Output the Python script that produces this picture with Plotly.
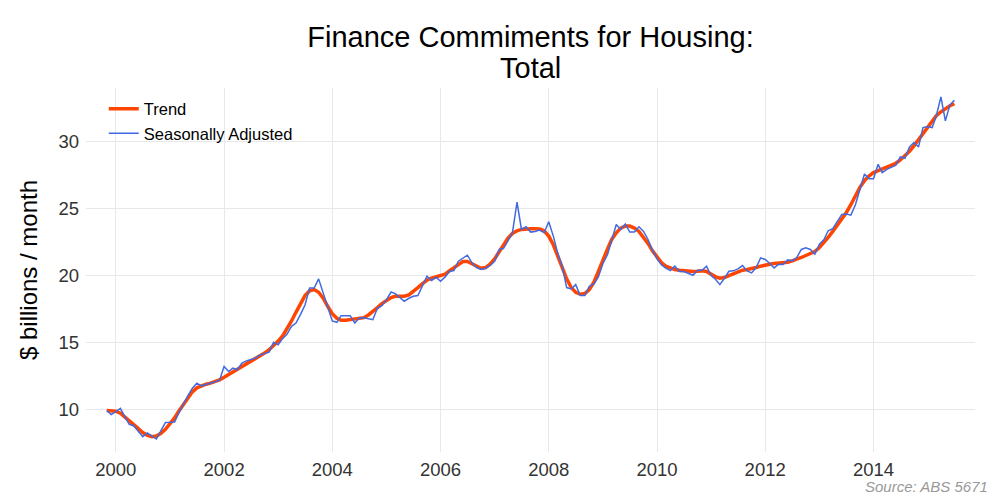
import pandas as pd
import plotly.graph_objects as go

# Monthly data, Nov 1999 - Jul 2015 ($ billions / month)
start_month = "1999-11-01"
n_months = 189

seasonally_adjusted = [
    9.90, 9.60, 9.82, 10.07, 9.47, 8.87, 8.77, 8.37, 7.95, 8.22,
    8.00, 7.77, 8.40, 9.00, 9.02, 9.05, 9.72, 10.40, 11.00, 11.57,
    11.95, 11.75, 11.85, 11.95, 12.05, 12.15, 13.20, 12.82, 13.07, 12.95,
    13.45, 13.62, 13.72, 13.82, 14.07, 14.17, 14.27, 15.00, 14.82, 15.30,
    15.60, 16.20, 16.45, 17.10, 17.80, 19.07, 19.07, 19.75, 18.70, 17.60,
    16.60, 16.50, 17.00, 17.00, 17.00, 16.45, 16.83, 16.85, 16.80, 16.70,
    17.57, 17.75, 18.20, 18.77, 18.65, 18.35, 18.07, 18.30, 18.45, 18.50,
    19.20, 19.95, 19.62, 19.87, 19.57, 19.90, 20.30, 20.37, 21.07, 21.32,
    21.52, 20.95, 20.60, 20.45, 20.55, 20.75, 21.07, 21.95, 22.02, 22.60,
    23.20, 25.50, 23.45, 23.65, 23.25, 23.30, 23.40, 23.20, 24.03, 22.95,
    21.70, 20.70, 19.10, 19.00, 19.32, 18.50, 18.50, 19.20, 19.37, 19.90,
    20.90, 21.57, 22.70, 23.82, 23.45, 23.85, 23.25, 23.25, 23.65, 23.32,
    22.70, 21.90, 21.25, 20.80, 20.55, 20.37, 20.70, 20.30, 20.30, 20.15,
    20.02, 20.40, 20.40, 20.70, 20.00, 19.70, 19.32, 19.80, 20.32, 20.35,
    20.50, 20.75, 20.35, 20.20, 20.60, 21.32, 21.20, 20.90, 20.57, 20.85,
    20.82, 21.17, 21.10, 21.35, 21.95, 22.07, 21.95, 21.60, 22.35, 22.70,
    23.35, 23.50, 24.05, 24.57, 24.60, 24.52, 25.30, 26.40, 27.60, 27.25,
    27.25, 28.32, 27.70, 27.95, 28.07, 28.25, 28.87, 28.77, 29.62, 29.95,
    29.62, 31.07, 31.15, 31.07, 31.95, 33.37, 31.57, 32.77, 33.12,
]

trend = [
    9.90, 9.90, 9.85, 9.70, 9.45, 9.15, 8.85, 8.55, 8.25, 8.05,
    7.95, 8.00, 8.20, 8.50, 8.90, 9.35, 9.85, 10.35, 10.85, 11.30,
    11.60, 11.75, 11.87, 11.95, 12.05, 12.20, 12.40, 12.60, 12.80, 13.00,
    13.20, 13.40, 13.60, 13.80, 14.00, 14.20, 14.45, 14.75, 15.10, 15.50,
    16.00, 16.60, 17.25, 17.90, 18.50, 18.85, 18.95, 18.75, 18.30, 17.70,
    17.15, 16.80, 16.65, 16.65, 16.70, 16.75, 16.80, 16.85, 17.05, 17.30,
    17.60, 17.90, 18.15, 18.35, 18.45, 18.45, 18.45, 18.55, 18.80, 19.10,
    19.40, 19.65, 19.80, 19.90, 19.95, 20.10, 20.35, 20.60, 20.85, 21.05,
    21.05, 20.90, 20.70, 20.55, 20.60, 20.85, 21.25, 21.75, 22.30, 22.80,
    23.15, 23.35, 23.45, 23.50, 23.50, 23.50, 23.48, 23.35, 22.95, 22.30,
    21.50, 20.60, 19.75, 19.10, 18.75, 18.60, 18.65, 18.95, 19.50, 20.30,
    21.20, 22.00, 22.70, 23.20, 23.55, 23.70, 23.70, 23.55, 23.30, 22.90,
    22.40, 21.85, 21.35, 20.95, 20.70, 20.55, 20.45, 20.40, 20.35, 20.32,
    20.30, 20.32, 20.35, 20.30, 20.10, 19.90, 19.80, 19.85, 20.00, 20.15,
    20.30, 20.40, 20.45, 20.50, 20.60, 20.70, 20.80, 20.85, 20.90, 20.92,
    20.95, 21.00, 21.10, 21.20, 21.35, 21.50, 21.65, 21.80, 22.10, 22.45,
    22.85, 23.30, 23.75, 24.20, 24.70, 25.30, 26.00, 26.60, 27.10, 27.45,
    27.70, 27.85, 28.00, 28.10, 28.25, 28.40, 28.65, 28.95, 29.30, 29.70,
    30.15, 30.65, 31.10, 31.55, 31.95, 32.25, 32.50, 32.70, 32.85,
]

dates = pd.date_range(start_month, periods=n_months, freq="MS")

y_ticks = [10, 15, 20, 25, 30]
x_tick_years = ["2000-01-01", "2002-01-01", "2004-01-01", "2006-01-01",
                "2008-01-01", "2010-01-01", "2012-01-01", "2014-01-01"]
x_tick_labels = ["2000", "2002", "2004", "2006", "2008", "2010", "2012", "2014"]

FONT = "Arial, Liberation Sans, sans-serif"

fig = go.Figure()
fig.add_trace(go.Scatter(
    x=dates, y=trend, mode="lines", name="Trend",
    line=dict(color="#FF4500", width=3.5),
))
fig.add_trace(go.Scatter(
    x=dates, y=seasonally_adjusted, mode="lines", name="Seasonally Adjusted",
    line=dict(color="#4169E1", width=1.5),
))

fig.update_layout(
    width=1000, height=500,
    margin=dict(l=78, r=33, t=80, b=56, autoexpand=False),
    paper_bgcolor="white", plot_bgcolor="white",
    font=dict(family=FONT, color="#222"),
    title=dict(
        text="Finance Commiments for Housing:",
        x=0.5, xref="paper", xanchor="center",
        y=0.942, yref="container", yanchor="middle",
        font=dict(size=29, color="black", family=FONT),
    ),
    legend=dict(
        x=0.02, y=0.9905, xanchor="left", yanchor="top",
        bgcolor="rgba(255,255,255,0)",
        font=dict(size=16.5, color="black"),
        tracegroupgap=0, itemwidth=30,
    ),
    xaxis=dict(
        type="date", automargin=False,
        range=["1999-06-14", "2015-11-17"],
        tickvals=x_tick_years, ticktext=x_tick_labels,
        showgrid=True, gridcolor="#e8e8e8", gridwidth=1,
        zeroline=False, showline=False, ticks="",
        ticklabelstandoff=4,
        tickfont=dict(size=18.5, color="#333"),
    ),
    yaxis=dict(
        automargin=False,
        range=[6.8, 34.03],
        tickvals=y_ticks,
        showgrid=True, gridcolor="#e8e8e8", gridwidth=1,
        zeroline=False, showline=False, ticks="",
        ticklabelstandoff=6,
        tickfont=dict(size=18.5, color="#333"),
        title=dict(text="$ billions / month", font=dict(size=24, color="black"), standoff=14),
    ),
    annotations=[
        dict(
            text="Total", xref="paper", yref="paper",
            x=0.5, y=1.055, xanchor="center", yanchor="middle",
            showarrow=False, font=dict(size=29, color="black", family=FONT),
        ),
        dict(
            text="<i>Source: ABS 5671</i>", xref="paper", yref="paper",
            x=1.017, y=-0.096, xanchor="right", yanchor="middle",
            showarrow=False, font=dict(size=15, color="#999", family=FONT),
        ),
    ],
)

fig.write_html("out.html")
